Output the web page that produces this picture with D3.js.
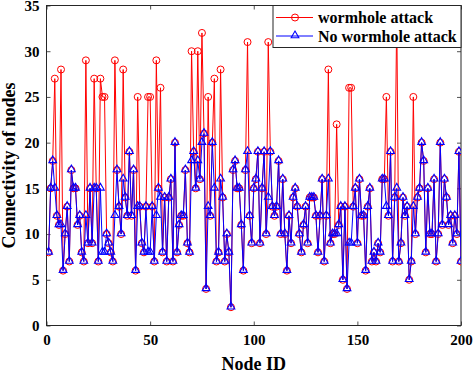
<!DOCTYPE html>
<html>
<head>
<meta charset="utf-8">
<script src="https://cdn.jsdelivr.net/npm/d3@7"></script>
<style>
	body { margin: 0; background: #fff; }
	svg { display: block; font-family: "Liberation Serif", "Times New Roman", serif; font-weight: bold; }
</style>
</head>
<body>
<svg id="chart" width="474" height="372"></svg>
<script>
// node connectivity without the attack, node 1..200
var noAttack = [
	8, 15, 18, 15, 12, 11, 11, 6, 10, 13,
	7, 17, 15, 15, 11, 12, 8, 7, 12, 9,
	15, 9, 15, 15, 7, 15, 8, 8, 10, 9,
	8, 7, 12, 17, 13, 10, 16, 14, 12, 19,
	12, 17, 6, 13, 13, 9, 8, 13, 8, 8,
	13, 7, 12, 15, 14, 8, 14, 7, 14, 16,
	7, 20, 8, 11, 12, 12, 17, 9, 8, 18,
	19, 15, 18, 16, 20, 21, 4, 13, 12, 20,
	15, 7, 8, 16, 14, 7, 10, 8, 2, 17,
	18, 15, 15, 11, 6, 17, 19, 12, 9, 15,
	16, 19, 9, 15, 19, 10, 14, 19, 13, 12,
	13, 18, 10, 16, 10, 6, 12, 9, 14, 15,
	13, 10, 8, 11, 13, 9, 14, 14, 14, 12,
	8, 12, 16, 7, 12, 16, 9, 10, 10, 10,
	11, 13, 5, 13, 4, 9, 9, 13, 15, 9,
	16, 12, 12, 6, 13, 15, 7, 8, 7, 9,
	8, 16, 16, 13, 12, 19, 7, 14, 15, 7,
	9, 14, 12, 13, 5, 7, 13, 10, 14, 15,
	20, 18, 8, 15, 10, 10, 16, 7, 10, 20,
	11, 16, 14, 11, 12, 9, 12, 10, 19, 7
];

// nodes whose connectivity jumps under the wormhole attack
var attackNodes = [4, 7, 19, 23, 26, 27, 28, 33, 37, 44, 49, 50, 53, 55, 70, 73, 75, 78, 81, 84, 97, 107, 136, 140, 146, 147, 164, 169, 177];
var attackValues = [27, 28, 29, 27, 27, 25, 25, 29, 28, 25, 25, 25, 29, 26, 30, 30, 32, 25, 27, 28, 31, 31, 28, 22, 26, 26, 25, 34, 25];

var xTicks = [0, 50, 100, 150, 200];
var yTicks = [0, 5, 10, 15, 20, 25, 30, 35];
var seriesNames = ["wormhole attack", "No wormhole attack"];
var seriesColors = ["#ff0000", "#0000ff"];

;(function() {
	"use strict";

	var svg = d3.select("#chart"),
		left = 46.5, right = 461, top = 5.5, bottom = 325.5,
		tickLen = 4;

	var x = d3.scaleLinear().domain([0, 200]).range([left, right]),
		y = d3.scaleLinear().domain([0, 35]).range([bottom, top]);

	var blueData = noAttack.map(function(v, i) { return { node: i + 1, value: v }; }),
		redData = blueData.map(function(d) {
			var k = attackNodes.indexOf(d.node);
			return { node: d.node, value: k >= 0 ? attackValues[k] : d.value };
		});

	svg.append("rect")
		.attr("width", 474).attr("height", 372)
		.attr("fill", "#fff");

	var clip = svg.append("defs").append("clipPath").attr("id", "plotclip");
	clip.append("rect")
		.attr("x", left).attr("y", top)
		.attr("width", right - left).attr("height", bottom - top);

	// Axes, MATLAB style: ticks inside, mirrored on the box
	var axisColor = "#262626";
	var gx = svg.append("g").attr("transform", "translate(0," + bottom + ")")
		.call(d3.axisBottom(x).tickValues(xTicks).tickSizeInner(-tickLen).tickSizeOuter(0).tickPadding(9));
	var gxTop = svg.append("g").attr("transform", "translate(0," + top + ")")
		.call(d3.axisTop(x).tickValues(xTicks).tickSizeInner(-tickLen).tickSizeOuter(0).tickFormat(""));
	var gy = svg.append("g").attr("transform", "translate(" + left + ",0)")
		.call(d3.axisLeft(y).tickValues(yTicks).tickSizeInner(-tickLen).tickSizeOuter(0).tickPadding(7));
	var gyRight = svg.append("g").attr("transform", "translate(" + right + ",0)")
		.call(d3.axisRight(y).tickValues(yTicks).tickSizeInner(-tickLen).tickSizeOuter(0).tickFormat(""));

	[gx, gxTop, gy, gyRight].forEach(function(g) {
		g.select(".domain").remove();
		g.selectAll(".tick line").attr("stroke", axisColor).attr("stroke-width", 0.8);
		g.selectAll("text")
			.attr("fill", "#000")
			.style("font-family", "'Liberation Serif', serif")
			.style("font-weight", "bold")
			.style("font-size", "15px");
	});

	svg.append("rect")
		.attr("x", left).attr("y", top)
		.attr("width", right - left).attr("height", bottom - top)
		.attr("fill", "none")
		.attr("stroke", axisColor)
		.attr("stroke-width", 1);

	// Series
	var line = d3.line()
		.x(function(d) { return x(d.node); })
		.y(function(d) { return y(d.value); });

	var plot = svg.append("g").attr("clip-path", "url(#plotclip)");

	plot.append("path")
		.datum(redData)
		.attr("d", line)
		.attr("fill", "none")
		.attr("stroke", seriesColors[0])
		.attr("stroke-width", 1);

	plot.selectAll(".red-marker").data(redData)
		.enter().append("circle")
			.attr("class", "red-marker")
			.attr("cx", function(d) { return x(d.node); })
			.attr("cy", function(d) { return y(d.value); })
			.attr("r", 3.5)
			.attr("fill", "none")
			.attr("stroke", seriesColors[0])
			.attr("stroke-width", 1);

	plot.append("path")
		.datum(blueData)
		.attr("d", line)
		.attr("fill", "none")
		.attr("stroke", seriesColors[1])
		.attr("stroke-width", 1);

	var tri = d3.symbol().type(d3.symbolTriangle).size(26);
	plot.selectAll(".blue-marker").data(blueData)
		.enter().append("path")
			.attr("class", "blue-marker")
			.attr("d", tri)
			.attr("transform", function(d) { return "translate(" + x(d.node) + "," + (y(d.value) - 0.5) + ")"; })
			.attr("fill", "none")
			.attr("stroke", seriesColors[1])
			.attr("stroke-width", 1.1);

	// Axis titles
	svg.append("text")
		.attr("x", (left + right) / 2)
		.attr("y", 370)
		.attr("text-anchor", "middle")
		.style("font-size", "18px")
		.text("Node ID");

	svg.append("text")
		.attr("transform", "translate(15," + ((top + bottom) / 2) + ") rotate(-90)")
		.attr("text-anchor", "middle")
		.style("font-size", "18px")
		.text("Connectivity of nodes");

	// Legend
	var lg = svg.append("g").attr("class", "legend");
	lg.append("rect")
		.attr("x", 273).attr("y", top)
		.attr("width", right - 273).attr("height", 42)
		.attr("fill", "#fff")
		.attr("stroke", axisColor)
		.attr("stroke-width", 1);

	var rows = lg.selectAll(".legend-row").data(seriesNames)
		.enter().append("g")
			.attr("class", "legend-row")
			.attr("transform", function(d, i) { return "translate(0," + (17.5 + i * 18.5) + ")"; });

	rows.append("line")
		.attr("x1", 276).attr("x2", 313)
		.attr("y1", 0).attr("y2", 0)
		.attr("stroke", function(d, i) { return seriesColors[i]; })
		.attr("stroke-width", 1);

	rows.each(function(d, i) {
		var row = d3.select(this);
		if (i === 0) {
			row.append("circle")
				.attr("cx", 295).attr("cy", 0).attr("r", 3.5)
				.attr("fill", "none")
				.attr("stroke", seriesColors[0]);
		} else {
			row.append("path")
				.attr("d", tri)
				.attr("transform", "translate(295,-0.5)")
				.attr("fill", "none")
				.attr("stroke", seriesColors[1])
				.attr("stroke-width", 1.1);
		}
	});

	rows.append("text")
		.attr("x", 318)
		.attr("y", 0)
		.attr("dy", ".35em")
		.style("font-size", "16px")
		.text(function(d) { return d; });
})();
</script>
</body>
</html>
